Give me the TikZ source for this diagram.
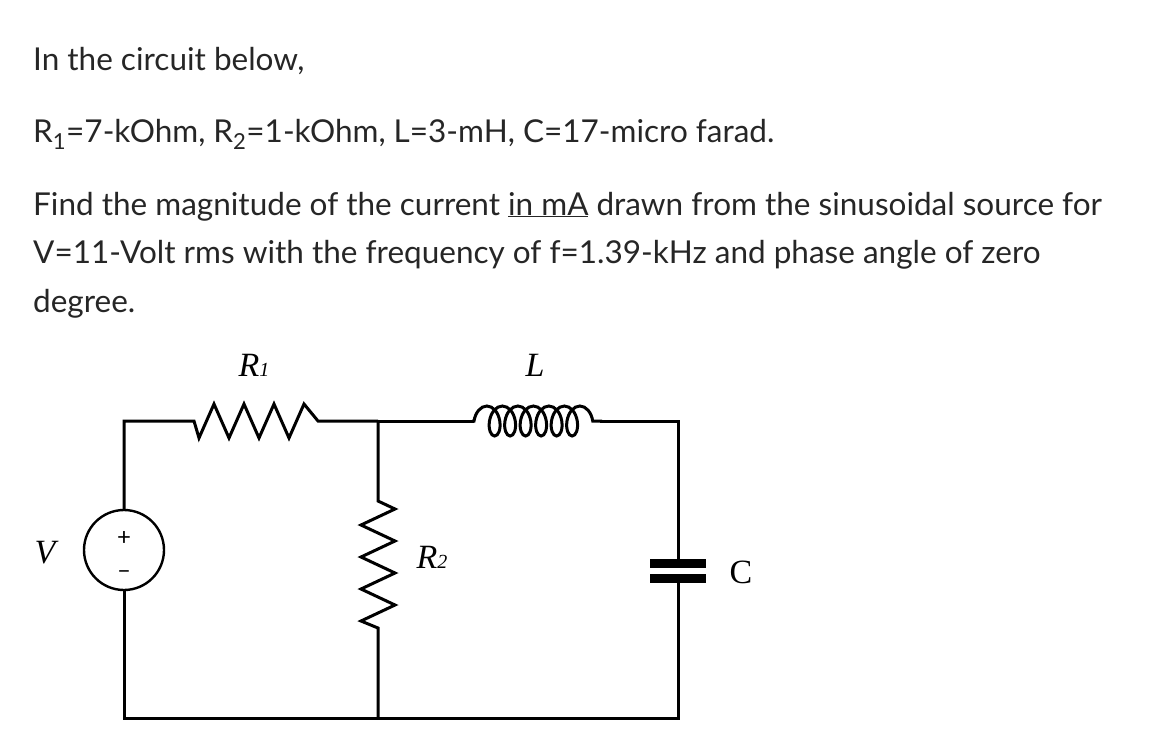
\documentclass[tikz,border=0pt]{standalone}
\usepackage{fontspec}
\setmainfont{Lato}
\newfontfamily\tnr{Liberation Serif}
\usetikzlibrary{decorations.pathmorphing}
\begin{document}
\begin{tikzpicture}[x=1pt,y=-1pt,
  txt/.style={anchor=base west,inner sep=0pt,font=\fontsize{31.5}{31.5}\selectfont,text=black!85},
  lbl/.style={inner sep=0pt,font=\tnr\itshape\fontsize{34}{34}\selectfont},
  wire/.style={line width=3pt,line join=miter}]
\useasboundingbox (0,0) rectangle (1176,740);
\node[txt] (t1) at (33,70) {In the circuit below,};
\node[txt] (t2) at (33,142) {R\textsubscript{1}=7-kOhm, R\textsubscript{2}=1-kOhm, L=3-mH, C=17-micro farad.};
\node[txt] (t3) at (33,215) {Find the magnitude of the current \underline{in mA} drawn from the sinusoidal source for};
\node[txt] (t4) at (33,263) {V=11-Volt rms with the frequency of f=1.39-kHz and phase angle of zero};
\node[txt] (t5) at (33,312) {degree.};
% corners
\coordinate (tl) at (124,421); \coordinate (bl) at (124,718);
\coordinate (tm) at (378,421); \coordinate (bm) at (378,718);
\coordinate (tr) at (678,421); \coordinate (br) at (678,718);
% source
\node[draw,circle,line width=2.4pt,minimum size=80pt,inner sep=0pt] (src) at (124,550) {};
\node[font=\fontsize{24}{24}\selectfont] (plus) at (124,538) {+};
\node[font=\fontsize{24}{24}\selectfont] (minus) at (124,575) {--};
\draw[wire] (src.north) -- (tl) -- (180,421) -- (194,421) -- (199,438) -- (214,404) -- (229,438) -- (244,404) -- (259,438) -- (274,404) -- (289,438) -- (304,404) -- (318,421) -- (tm);
\draw[wire] (tm) -- (474,421);
\draw[wire,decorate,decoration={coil,aspect=0.6,segment length=15.5pt,amplitude=15pt,pre length=2pt,post length=2pt}] (472,421) -- (602,421);
\draw[wire] (600,421) -- (tr) -- (678,562);
\fill (650,559) rectangle (706,568);
\fill (650,574) rectangle (706,583);
\draw[wire] (678,580) -- (br) -- (bl) -- (src.south);
\draw[wire] (tm) -- (378,489) -- (378,501) -- (395,509) -- (361,525) -- (395,541) -- (361,557) -- (395,573) -- (361,589) -- (395,605) -- (361,621) -- (378,628) -- (bm);
% labels
\node[lbl] (lr1) at (254,365) {R\fontsize{20}{20}\selectfont 1};
\node[lbl] (lL) at (535,365) {L};
\node[lbl] (lr2) at (432,557) {R\fontsize{20}{20}\selectfont 2};
\node[lbl,font=\tnr\fontsize{34}{34}\selectfont] (lC) at (741,572) {C};
\node[lbl] (lV) at (45,553) {V};
\end{tikzpicture}
\end{document}
